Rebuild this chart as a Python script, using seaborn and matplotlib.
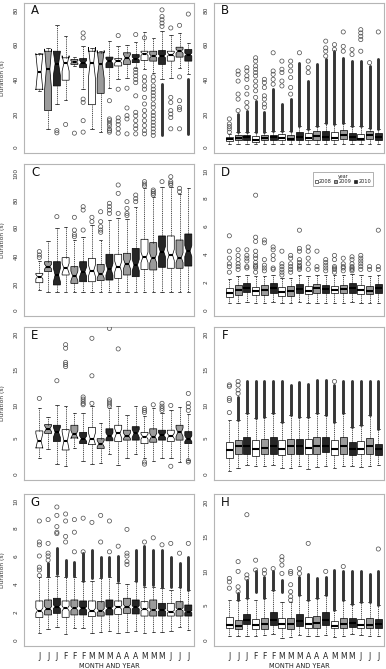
import matplotlib
matplotlib.use('Agg')
import matplotlib.pyplot as plt
from matplotlib.patches import Patch
import seaborn as sns
import pandas as pd
import numpy as np

sns.set_theme(style='white')
plt.rcParams['font.family'] = ['DejaVu Sans']

months = ['J', 'J', 'J', 'F', 'F', 'F', 'M', 'M', 'M', 'A', 'A', 'A', 'M', 'M', 'M', 'J', 'J', 'J']
years = ['2008', '2009', '2010'] * 6
year_colors = {'2008': '#ffffff', '2009': '#9b9b9b', '2010': '#262626'}
slots = list(range(18))

# ---- panel A ----
a_lo = [32, 10.5, 24.8, 27, 46.7, 33.3, 10.5, 8.6, 33.9, 39, 39.6, 45.7, 44.8, 42.9, 39, 40, 45.7, 41.9]
a_q1 = [33.3, 21, 35.2, 38.5, 47.6, 45.7, 24.4, 30.9, 45.7, 46.7, 47.6, 48.6, 49.9, 49.5, 47.6, 49.5, 51.8, 49.5]
a_med = [43.4, 44.8, 48, 48.2, 49, 48.6, 48.6, 47.6, 49.5, 49.5, 51.4, 51, 53.7, 52.4, 52.4, 53.3, 55.2, 53.3]
a_q3 = [53.3, 55.2, 55.2, 51.4, 50.5, 51, 55.2, 54.3, 51.8, 51, 54.3, 53.3, 55.2, 55.2, 55.6, 55.2, 57.5, 56.2]
a_hi = [54, 57, 70.5, 64.2, 51.8, 58, 57, 55.2, 61.3, 58, 59, 60.6, 66.3, 62.9, 66.7, 64.8, 65.7, 60]
a_n = [9, 21, 21, 21, 41, 41, 29, 21, 41, 41, 29, 81, 81, 81, 149, 61, 61, 149]
a_out = [[], [], [9.5, 8.2], [13], [8], [65.7, 62.9, 27.6, 25.7, 15.2, 8.6], [], [],
         [26.7, 16.2, 15.2, 13.7, 12.4, 10.5, 9.5, 8.6],
         [64.2, 33.3, 16.8, 14.9, 13, 10.5, 8],
         [33.9, 22.5, 18.1, 16.2, 7.6],
         [64.8, 44.8, 42.9, 41, 39, 37.1, 29.5, 20, 18, 15.2, 12.4, 10.5, 7.6],
         [62.9, 40.4, 38, 35.2, 33.3, 28.6, 24.8, 21, 18.1, 15.2, 12.4, 9.5, 7.6],
         [40.4, 38.1, 35.2, 33.3, 31.4, 29.5, 27.6, 24.8, 22.9, 20, 18.1, 16.2, 14.3, 12.4, 10.5, 8.6, 6.7],
         [79, 75.2, 73.3, 71.4, 69.5],
         [68.6, 28.6, 25.7, 21, 19, 17, 10.5],
         [70.1, 40.4, 26.7, 22.9, 21.5, 10.5],
         [76.6]]
a_dense = [None] * 14 + [(6.7, 36.2), None, None, (7.6, 39)]

# ---- panel B ----
b_lo = [1.5, 1.9, 1.9, 1.5, 1.9, 1.9, 1.9, 1.9, 1.9, 1.9, 1.9, 1.9, 1.9, 1.9, 1.9, 1.9, 1.9, 1.9]
b_q1 = [3.4, 3.8, 3.8, 2.9, 3.8, 4.2, 4.2, 3.8, 3.8, 3.8, 4.2, 3.8, 3.8, 4.8, 3.8, 3.8, 4.8, 3.8]
b_med = [4.6, 5.2, 5.5, 4.2, 5.2, 5.5, 5.1, 4.8, 5.7, 5.1, 6.1, 5.7, 5.1, 6.7, 5.7, 4.8, 6.7, 5.9]
b_q3 = [5.7, 6.7, 6.7, 6.1, 6.7, 7.0, 7.6, 7.0, 8.6, 8.0, 9.0, 9.1, 8.6, 9.9, 8.0, 7.6, 9.0, 8.0]
b_hi = [7.6, 8.6, 8.6, 8.6, 8.6, 9.5, 9.5, 9.5, 12, 10.5, 12.4, 14, 13, 14, 12.4, 12, 11, 10.5]
b_out = [[16.2, 13.3, 11.8, 10.5, 8.6],
         [43.8, 41.9, 38, 30.5, 27.6, 21],
         [45.7, 43.8, 41, 39, 34.3, 30.5, 25.7, 22.9],
         [51.4, 49.5, 46.7, 44.8, 42.9, 41, 38, 35.2, 32.4, 28.6],
         [39, 37.1, 34.3, 29.5, 27.6, 24.8, 22.9],
         [54.3, 43.8, 41.9, 39, 36.2],
         [49.5, 44.8, 42.9, 38, 35.2],
         [49.5, 46.7, 43.8, 40, 34.3, 30.5],
         [54.3], [49.5, 45.7, 42.9], [], [61, 57.1, 55.2, 52.4], [59, 56.2],
         [66.3, 58, 55.2], [56.2, 53.3], [67.6, 65.7, 63.8, 61.9, 55.2], [48.6], [66.3]]
b_dense = [None, (8.6, 19), (8.6, 21), (8.6, 26.7), (8.6, 20), (9.5, 33.3), (9.5, 24.8), (9.5, 27.6),
           (12, 48.6), (10.5, 38), (12.4, 47.6), (14, 50.5), (13, 55.2), (14, 51.4), (12.4, 49.5),
           (12, 49.5), (11, 46.7), (10.5, 50.5)]

# ---- panel C ----
c_lo = [14.3] + [13.1] * 17
c_q1 = [19.5, 27.4, 17.9, 25, 19, 20.2, 20.2, 21, 21.4, 22.6, 25, 23.8, 29, 28.6, 30.5, 29.8, 29.8, 31.4]
c_med = [23.8, 31, 25, 29.8, 24.3, 27.4, 28.1, 25.7, 29, 31, 32.9, 32.1, 37.6, 36.9, 41.7, 39.3, 37.4, 42.1]
c_q3 = [26.2, 34.5, 34.5, 37.4, 31, 34.5, 36.9, 32.6, 39.8, 39.8, 40.5, 44, 50.5, 48.1, 52.9, 52.9, 50, 54.3]
c_hi = [35, 49.3, 58.3, 59, 50, 52.4, 60.7, 50, 64.3, 65.5, 65, 73.8, 86.9, 81, 87.6, 88, 83, 87]
c_n = [41, 41, 29, 29, 29, 41, 41, 41, 49, 49, 49, 61, 81, 81, 81, 81, 81, 81]
c_out = [[41.7, 39.3, 37.5], [], [66.7], [], [66.2, 57.1, 54, 52.4], [73.8, 71.4, 57.1], [66.2, 63.1],
         [70.2, 63.1, 59.5, 57.1, 55.5], [76.2, 73.8, 71.4, 69], [89.3, 83.3, 69], [77.4, 72.6, 69, 67.5],
         [82.1, 79.5, 77.4], [91.7, 90, 88.5], [85.7, 84.5, 83.3, 82.1], [91.7], [95.2, 91.7, 90.5, 89.3],
         [86.9, 84.5], []]

# ---- panel D ----
d_lo = [0.48, 0.48, 0.6, 0.48, 0.48, 0.55, 0.48, 0.48, 0.55, 0.5, 0.5, 0.5, 0.5, 0.5, 0.55, 0.5, 0.5, 0.5]
d_q1 = [0.95, 1.07, 1.3, 1.07, 1.07, 1.24, 1.0, 1.0, 1.19, 1.14, 1.19, 1.19, 1.19, 1.19, 1.24, 1.14, 1.14, 1.24]
d_med = [1.19, 1.43, 1.6, 1.36, 1.43, 1.55, 1.31, 1.36, 1.5, 1.38, 1.55, 1.48, 1.43, 1.48, 1.6, 1.43, 1.38, 1.55]
d_q3 = [1.6, 1.79, 1.9, 1.67, 1.79, 1.9, 1.67, 1.71, 1.86, 1.71, 1.83, 1.79, 1.71, 1.79, 1.9, 1.79, 1.71, 1.83]
d_hi = [2.2, 2.4, 2.5, 2.4, 2.4, 2.5, 2.3, 2.3, 2.5, 2.4, 2.5, 2.5, 2.5, 2.5, 2.6, 2.5, 2.4, 2.5]
d_out = [[5.3, 4.2, 3.7, 3.3, 3.1, 2.7], [4.3, 3.9, 3.6, 3.3, 3.1, 2.9], [4.3, 3.9, 3.7, 3.5, 3.1, 3.0],
         [8.2, 5.2, 4.9, 4.2, 3.9, 3.7, 3.4, 3.2, 3.1, 3.0, 2.7], [5.0, 4.8, 3.6, 3.2, 3.0, 2.8],
         [4.5, 4.3, 3.9, 3.6, 3.0, 2.9], [4.2, 3.3, 3.1, 2.9, 2.7, 2.5], [3.9, 3.7, 3.3, 3.1, 2.9, 2.7],
         [5.7, 4.4, 4.2, 3.6, 3.4, 3.2, 3.1, 3.0, 2.9], [4.5, 4.2, 3.7, 3.3, 2.9], [4.2, 3.1, 2.9],
         [3.6, 3.4, 3.2, 3.0, 2.8], [3.9, 3.6, 3.1, 3.0, 2.9, 2.7], [3.7, 3.3, 3.1, 3.0, 2.8],
         [3.8, 3.6, 3.3, 3.1, 3.0, 2.9, 2.8], [3.9, 3.7, 3.5, 3.3, 3.1, 2.9], [3.1, 2.9], [5.7, 3.1, 2.9]]

# ---- panel E ----
e_lo = [2.3, 3.5, 1.4, 1.1, 3.7, 1.8, 1.4, 1.5, 2.8, 1.3, 2.3, 2.9, 2.2, 1.8, 2.3, 2.2, 1.7, 2.0]
e_q1 = [3.7, 5.75, 4.6, 3.4, 5.1, 4.3, 4.2, 3.6, 4.7, 4.6, 4.8, 4.8, 4.3, 4.5, 4.8, 4.6, 4.8, 4.3]
e_med = [4.7, 6.4, 5.9, 4.7, 5.6, 5.0, 5.0, 4.3, 5.4, 5.75, 5.4, 5.75, 5.3, 5.3, 5.5, 5.4, 5.9, 5.0]
e_q3 = [6.1, 7.0, 6.9, 6.3, 6.9, 5.9, 6.6, 5.0, 6.4, 6.9, 6.2, 6.7, 5.9, 6.4, 6.2, 6.2, 6.9, 6.0]
e_hi = [9.3, 8.0, 9.8, 9.6, 8.7, 8.7, 9.6, 7.2, 9.3, 9.6, 8.3, 9.6, 8.2, 9.3, 8.6, 9.0, 9.5, 8.5]
e_n = [13, 21, 25, 13, 25, 41, 21, 25, 41, 29, 29, 29, 49, 41, 41, 41, 29, 41]
e_out = [[10.7], [], [13.2], [18.3, 17.8, 15.8, 15.5, 15.2], [], [10.9, 10.6, 10.3, 10.0, 9.8],
         [19.2, 13.9, 10.0], [], [20.6, 10.5, 10.2, 9.9, 9.6], [17.7], [], [],
         [9.3, 9.0, 8.7, 1.7, 1.4], [9.8], [10.0, 9.6, 9.3, 9.0], [9.7, 1.1], [],
         [11.4, 10.0, 9.5, 9.0, 1.9, 1.7]]

# ---- panel F ----
f_lo = [0.5, 0.9, 1.3, 1.1, 1.1, 1.3, 0.8, 0.8, 1.1, 0.7, 1.0, 1.1, 0.9, 1.1, 1.1, 1.0, 1.2, 1.3]
f_q1 = [2.2, 2.8, 2.9, 2.6, 2.8, 2.9, 2.7, 2.8, 2.8, 2.9, 2.9, 3.1, 2.7, 2.9, 2.7, 2.8, 2.9, 2.7]
f_med = [3.4, 3.9, 3.9, 3.6, 3.7, 3.9, 3.6, 3.9, 3.9, 3.7, 4.0, 4.0, 3.6, 3.9, 3.5, 3.5, 3.9, 3.5]
f_q3 = [4.6, 4.8, 5.3, 4.8, 5.0, 5.2, 4.8, 5.0, 5.0, 5.0, 5.3, 5.3, 4.8, 5.3, 4.5, 4.7, 5.1, 4.3]
f_hi = [7.6, 7.6, 8.7, 7.9, 8.1, 8.6, 7.4, 8.3, 8.1, 8.1, 8.6, 8.4, 7.4, 8.6, 6.7, 7.0, 8.4, 6.4]
f_out = [[12.6, 12.4, 10.7, 10.4, 8.7], [13.1, 12.6, 11.9, 11.4], [], [], [], [], [], [], [], [], [], [],
         [13.1], [], [], [], [], []]
f_dense = [None, (7.6, 10.9), (8.7, 13.2), (7.9, 13.1), (8.1, 13.1), (8.6, 13.1), (7.4, 13.1), (8.3, 12.6),
           (8.1, 13.0), (8.1, 12.8), (8.6, 13.3), (8.4, 13.3), (7.4, 12.6), (8.6, 13.1), (6.7, 13.1),
           (7.0, 13.1), (8.4, 13.1), (6.4, 13.1)]

# ---- panel G ----
g_lo = [0.48, 0.76, 0.9, 0.43, 0.83, 0.83, 0.52, 0.6, 0.67, 0.52, 0.6, 0.67, 0.52, 0.6, 0.6, 0.64, 0.9, 0.71]
g_q1 = [1.6, 1.79, 1.9, 1.62, 1.79, 1.79, 1.67, 1.71, 1.79, 1.83, 1.9, 1.86, 1.71, 1.71, 1.71, 1.71, 1.71, 1.71]
g_med = [2.1, 2.24, 2.38, 2.26, 2.26, 2.26, 2.1, 2.1, 2.26, 2.33, 2.38, 2.33, 2.19, 2.14, 2.14, 2.02, 2.19, 2.02]
g_q3 = [2.79, 2.86, 2.98, 2.79, 2.86, 2.79, 2.79, 2.74, 2.86, 2.79, 2.98, 2.86, 2.74, 2.86, 2.62, 2.62, 2.74, 2.5]
g_hi = [4.5, 4.5, 4.6, 4.5, 4.5, 4.2, 4.2, 4.4, 4.5, 4.1, 4.0, 4.2, 3.8, 3.8, 3.7, 3.6, 3.8, 3.6]
g_n = [101, 121, 161, 101, 121, 161, 121, 121, 161, 121, 121, 201, 201, 201, 301, 201, 201, 301]
g_out = [[8.5, 7.0, 6.8, 6.0, 5.2, 5.0, 4.6], [8.6, 6.9, 6.2, 6.0, 5.7], [9.5, 8.9, 8.1, 7.7, 7.6],
         [9.0, 8.5, 7.4, 7.0], [8.6, 7.7, 6.3], [8.7, 6.3], [8.4], [8.9, 7.0], [8.5, 6.3], [6.7],
         [7.9, 6.2, 6.0, 5.6, 5.4], [], [7.0], [7.3], [6.8], [6.9], [6.2], [6.9]]
g_dense = [None, (4.6, 5.5), (4.7, 6.6), (4.6, 5.7), (4.6, 5.6), (4.2, 6.2), (4.4, 6.4), (4.5, 5.9),
           (4.6, 5.9), (4.2, 6.0), None, (4.2, 6.4), (3.9, 6.7), (3.9, 6.4), (3.8, 6.4), (3.8, 5.95),
           (3.8, 5.5), (3.6, 5.9)]

# ---- panel H ----
h_lo = [0.62, 0.57, 0.62, 0.62, 0.71, 0.81, 0.33, 0.48, 0.71, 0.62, 0.62, 0.71, 0.48, 0.62, 0.81, 0.71, 0.62, 0.62]
h_q1 = [1.67, 1.52, 2.24, 1.57, 1.57, 2.14, 1.67, 1.57, 2.0, 1.67, 1.67, 2.14, 1.67, 1.76, 1.9, 1.76, 1.67, 1.76]
h_med = [2.14, 2.0, 2.86, 2.14, 2.24, 2.86, 2.29, 2.29, 2.71, 2.29, 2.38, 2.86, 2.0, 2.29, 2.48, 2.14, 2.14, 2.29]
h_q3 = [3.33, 2.86, 3.67, 3.0, 3.1, 3.95, 3.2, 3.2, 3.67, 3.33, 3.48, 3.95, 2.71, 3.2, 3.2, 3.0, 3.1, 3.0]
h_hi = [5.7, 5.7, 6.0, 5.7, 6.0, 7.1, 5.5, 5.5, 6.4, 5.7, 6.0, 6.4, 4.3, 5.7, 5.2, 5.5, 5.5, 5.0]
h_out = [[8.8, 8.3, 7.4], [11.2, 9.8, 7.6, 6.9], [17.9, 9.3, 8.8], [11.4, 10.0], [10.0, 9.5], [10.2],
         [11.9, 11.4, 10.7, 9.5], [9.8, 9.5, 7.9, 6.9, 6.2, 5.7], [10.2, 9.5], [13.8], [], [9.8], [],
         [10.5], [], [], [], [13.0]]
h_dense = [None, (5.7, 6.7), (6.0, 8.6), (6.9, 9.8), (6.0, 9.0), (7.1, 9.8), (6.9, 8.6), None, (6.4, 9.0),
           (5.7, 9.5), (6.0, 8.9), (6.4, 9.0), (4.3, 10.0), (5.7, 9.8), (5.2, 9.8), (5.5, 9.8), (5.5, 9.5),
           (5.0, 9.8)]

no_notch = [5] * 18
no_dense = [None] * 18


def box_data(lo, q1, med, q3, hi, n):
    # sample whose min / quartiles / max / size reproduce each box (n sets notch size)
    rows = []
    for i in range(len(med)):
        k = max(1, (n[i] - 1) // 4)
        vals = [lo[i]] + [q1[i]] * (2 * k - 1) + [med[i]] + [q3[i]] * (2 * k - 1) + [hi[i]]
        rows += [(i, years[i], v) for v in vals]
    return pd.DataFrame(rows, columns=['slot', 'year', 'value'])


def draw_panel(ax, letter, lo, q1, med, q3, hi, n, out, dense, lim, step, notch, left, bottom):
    df = box_data(lo, q1, med, q3, hi, n)
    sns.boxplot(data=df, x='slot', y='value', hue='year', order=slots, palette=year_colors,
                dodge=False, saturation=1, width=0.8, whis=(0, 100), fliersize=0,
                linecolor='black', linewidth=0.5, notch=notch, legend=False,
                medianprops={'color': 'black', 'linewidth': 1.5},
                whiskerprops={'color': 'black', 'linewidth': 0.5, 'linestyle': (0, (1.5, 1.2))},
                capprops={'color': 'black', 'linewidth': 0.5}, ax=ax)

    # dense stacks of outliers read as continuous columns
    for i, d in enumerate(dense):
        if d is not None:
            ax.vlines(i, d[0], d[1], color='#353535', linewidth=2.1, zorder=2.5,
                      capstyle='round')

    odf = pd.DataFrame([(i, v) for i in slots for v in out[i]], columns=['slot', 'value'])
    before = len(ax.collections)
    sns.stripplot(data=odf, x='slot', y='value', order=slots, jitter=False, size=3,
                  color='#555555', edgecolor='#444444', linewidth=0.5, ax=ax)
    for coll in ax.collections[before:]:
        coll.set_facecolor('none')
        coll.set_edgecolor('#4a4a4a')

    r = lim[1] - lim[0]
    ax.set_xlim(-1.75, 17.65)
    ax.set_ylim(lim[0] - 0.04 * r, lim[1] + 0.04 * r)
    ticks = np.arange(lim[0], lim[1] + step / 2, step)
    ax.set_yticks(ticks)
    ax.set_yticklabels([f'{t:g}' for t in ticks])
    ax.set_xticks(slots)
    ax.tick_params(axis='both', direction='out', length=2.2, width=0.5, color='#666666',
                   labelsize=4.2, labelcolor='#333333', pad=1.5)
    ax.tick_params(axis='y', labelrotation=90)
    for s in ax.spines.values():
        s.set_color('#b5b5b5')
        s.set_linewidth(0.8)
    ax.set_xlabel('')
    if left:
        ax.set_ylabel('Duration (s)', fontsize=4.3, color='#333333')
        ax.yaxis.set_label_coords(-0.11, 0.5)
    else:
        ax.set_ylabel('')
    if bottom:
        ax.set_xticklabels(months, fontsize=5.5, color='#222222')
        ax.tick_params(axis='x', pad=2.2)
        ax.set_xlabel('MONTH AND YEAR', fontsize=4.8, color='#222222', labelpad=1.5)
    else:
        ax.set_xticklabels([])
    ax.text(0.065, 0.944, letter, transform=ax.transAxes, fontsize=8.5,
            ha='center', va='center', color='#111111')


W, H = 386, 669
fig = plt.figure(figsize=(W / 100, H / 100), dpi=100)
fig.patch.set_facecolor('white')

col_x = [24, 214]
row_y = [(2.6, 152.6), (164.4, 315.6), (327.0, 479.7), (494.4, 645.6)]

panels = [
    ('A', a_lo, a_q1, a_med, a_q3, a_hi, a_n, a_out, a_dense, (0, 80), 20, True),
    ('B', b_lo, b_q1, b_med, b_q3, b_hi, no_notch, b_out, b_dense, (0, 80), 20, False),
    ('C', c_lo, c_q1, c_med, c_q3, c_hi, c_n, c_out, no_dense, (0, 100), 20, True),
    ('D', d_lo, d_q1, d_med, d_q3, d_hi, no_notch, d_out, no_dense, (0, 10), 2, False),
    ('E', e_lo, e_q1, e_med, e_q3, e_hi, e_n, e_out, no_dense, (0, 20), 5, True),
    ('F', f_lo, f_q1, f_med, f_q3, f_hi, no_notch, f_out, f_dense, (0, 20), 5, False),
    ('G', g_lo, g_q1, g_med, g_q3, g_hi, g_n, g_out, g_dense, (0, 10), 2, True),
    ('H', h_lo, h_q1, h_med, h_q3, h_hi, no_notch, h_out, h_dense, (0, 20), 5, False),
]

axes = {}
for idx, p in enumerate(panels):
    row, col = divmod(idx, 2)
    top, bot = row_y[row]
    ax = fig.add_axes([col_x[col] / W, 1 - bot / H, 170 / W, (bot - top) / H])
    draw_panel(ax, *p, left=(col == 0), bottom=(row == 3))
    axes[p[0]] = ax

handles = [Patch(facecolor=year_colors[y], edgecolor='black', linewidth=0.4, label=y)
           for y in ['2008', '2009', '2010']]
leg = axes['D'].legend(handles=handles, title='year', ncol=3, loc='upper right',
                       bbox_to_anchor=(0.95, 0.965), fontsize=3.6, title_fontsize=3.4,
                       handlelength=0.6, handleheight=0.6, handletextpad=0.3,
                       columnspacing=0.5, borderpad=0.3, labelspacing=0.1,
                       frameon=True, fancybox=False, edgecolor='#555555')
leg.get_frame().set_linewidth(0.4)

fig.savefig('out.png', dpi=100)
